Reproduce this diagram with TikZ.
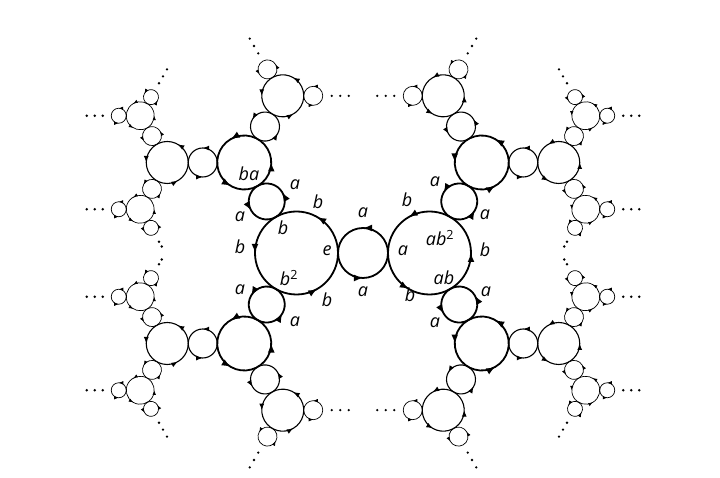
\documentclass[tikz,border=0pt]{standalone}
\usepackage{fontspec}
\usepackage{tikz}
\usetikzlibrary{arrows.meta,decorations.markings}
\newfontfamily\opensans{Open Sans}

\tikzset{
  lv1/.style={line width=1.8pt, >={Latex[length=9pt,width=7pt]}},
  lv2/.style={line width=1.1pt, >={Latex[length=6.5pt,width=5pt]}},
  lv3/.style={line width=0.7pt, >={Latex[length=4.5pt,width=3.5pt]}},
  lab/.style={inner sep=0pt, font=\opensans\itshape\fontsize{18}{18}\selectfont}
}
\def\orient{360}
% a-cycle: centre, radius, angle of one vertex, level
\newcommand{\acirc}[4]{%
  \draw[#4, postaction={decorate}, decoration={markings,
      mark=at position 0.25 with {\arrow{>}},
      mark=at position 0.75 with {\arrow{>}}}]
    (#1) ++(#3:#2) arc[start angle=#3, delta angle=\orient, radius=#2];}
% b-cycle: centre, radius, angle of one vertex, level
\newcommand{\bcirc}[4]{%
  \draw[#4, postaction={decorate}, decoration={markings,
      mark=at position 0.1667 with {\arrow{>}},
      mark=at position 0.5 with {\arrow{>}},
      mark=at position 0.8333 with {\arrow{>}}}]
    (#1) ++(#3:#2) arc[start angle=#3, delta angle=\orient, radius=#2];}
% dots: centre, direction, distances
\newcommand{\moredots}[3]{\foreach \dd in {#3} \fill (#1) ++(#2:\dd) circle[radius=1.3];}

\begin{document}
\begin{tikzpicture}[x=1pt, y=1pt]
  \useasboundingbox (-363,-225) rectangle (357,253);

  \acirc{0,0}{25}{0}{lv1}
  \bcirc{-66.5,0}{41.5}{0}{lv1}
  \bcirc{66.5,0}{41.5}{180}{lv1}

  % one quarter, mirrored four times
  \foreach \sx/\sy in {1/1,1/-1,-1/1,-1/-1}{
    \begin{scope}[xscale=\sx, yscale=\sy]
      \pgfmathsetmacro\orient{360*\sx*\sy}
      \acirc{-96.25,51.53}{18}{120}{lv1}
      \bcirc{-118.75,90.5}{27}{300}{lv1}
      \acirc{-98,126.44}{14.5}{60}{lv2}
      \acirc{-160.25,90.5}{14.5}{0}{lv2}
      \bcirc{-80.25,157.18}{21}{240}{lv2}
      \bcirc{-195.75,90.5}{21}{0}{lv2}
      \acirc{-49.75,157.18}{9.5}{0}{lv3}
      \acirc{-95.5,183.59}{9.5}{120}{lv3}
      \acirc{-211,116.91}{9.5}{120}{lv3}
      \acirc{-211,64.09}{9.5}{60}{lv3}
      \bcirc{-222.75,137.26}{14}{300}{lv3}
      \bcirc{-222.75,43.74}{14}{60}{lv3}
      \acirc{-244.25,137.26}{7.5}{0}{lv3}
      \acirc{-212,155.88}{7.5}{60}{lv3}
      \acirc{-244.25,43.74}{7.5}{0}{lv3}
      \acirc{-212,25.12}{7.5}{300}{lv3}
      \moredots{-49.75,157.18}{0}{18.5,27,35.5}
      \moredots{-95.5,183.59}{120}{18.5,27,35.5}
      \moredots{-244.25,137.26}{180}{16,24,32}
      \moredots{-212,155.88}{60}{16,24,32}
      \moredots{-244.25,43.74}{180}{16,24,32}
      \moredots{-212,25.12}{300}{16,21.5}
    \end{scope}
  }

  % Labels
  \node[lab] (at) at (0,40) {a};
  \node[lab] (ab) at (0,-39) {a};
  \node[lab] (lb1) at (-45,51) {b};
  \node[lab] (lb2) at (-123,6) {b};
  \node[lab] (lb3) at (-36,-47) {b};
  \node[lab] (ve) at (-36,2) {e};
  \node[lab] (vb) at (-80,25) {b};
  \node[lab] (vbb) at (-74,-25) {b\textsuperscript{\upshape 2}};
  \node[lab] (rb1) at (44,53) {b};
  \node[lab] (rb2) at (122,3) {b};
  \node[lab] (rb3) at (47,-42) {b};
  \node[lab] (va) at (40,2) {a};
  \node[lab] (vabb) at (77,15) {ab\textsuperscript{\upshape 2}};
  \node[lab] (vab) at (81,-25) {ab};
  \node[lab] (vba) at (-114,79) {ba};
  \node[lab] (la1) at (-68,68) {a};
  \node[lab] (la2) at (-123,36) {a};
  \node[lab] (la3) at (-123,-37) {a};
  \node[lab] (la4) at (-68,-69) {a};
  \node[lab] (ra1) at (72,71) {a};
  \node[lab] (ra2) at (122,38) {a};
  \node[lab] (ra3) at (123,-39) {a};
  \node[lab] (ra4) at (72,-70) {a};
\end{tikzpicture}
\end{document}
